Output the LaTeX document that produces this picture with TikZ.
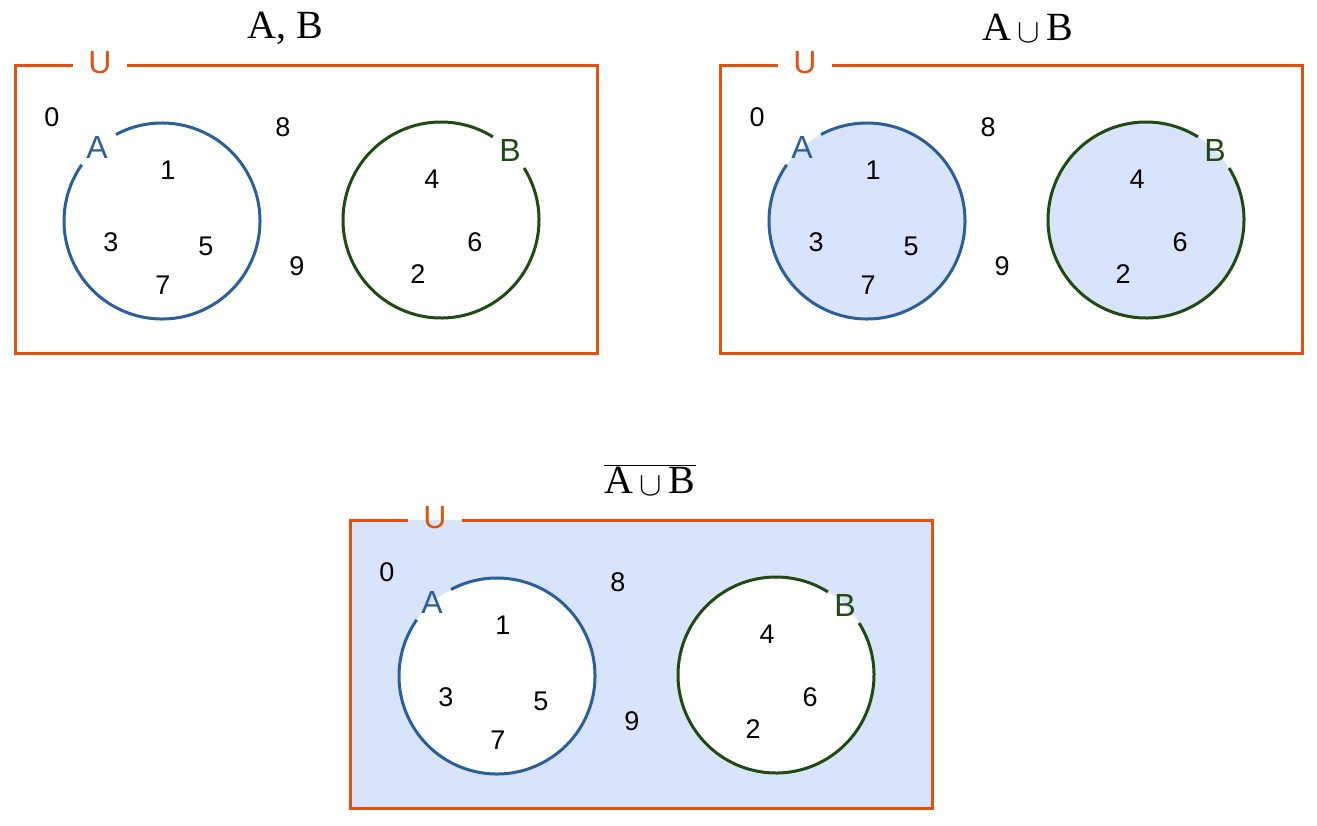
\documentclass[tikz,border=0pt]{standalone}
\usepackage{fontspec}
\setmainfont{Liberation Serif}
\newfontfamily\sansf{Liberation Sans}
\definecolor{uor}{HTML}{E4500E}
\definecolor{ablue}{HTML}{2B5F99}
\definecolor{bgreen}{HTML}{1F4A12}
\definecolor{lb}{HTML}{D8E4FC}
\newcommand\cupb{\,\raisebox{-0.05em}{\scalebox{1.35}{$\cup$}}\,}
\begin{document}
\begin{tikzpicture}[x=1pt,y=-1pt,
  num/.style={font=\sansf\fontsize{27}{30}\selectfont},
  lab/.style={font=\sansf\fontsize{32}{34}\selectfont,inner sep=0pt},
  ttl/.style={font=\fontsize{40}{42}\selectfont},
  box/.style={draw=uor,line width=3pt},
  ca/.style={draw=ablue,line width=3pt},
  cb/.style={draw=bgreen,line width=3pt}]
\useasboundingbox (0,0) rectangle (1317,825);
\newcommand\panel[4]{% #1 prefix, #2 xshift, #3 yshift, #4 circle fill
\begin{scope}[shift={(#2,#3)}]
\draw[box] (73,65) -- (15,65) -- (15,353) -- (597,353) -- (597,65) -- (127,65);
\node[lab,text=uor] (#1U) at (100,63) {U};
\fill[#4] (162,221) circle (98);
\fill[#4] (441,220) circle (98);
\draw[ca] (162,221) ++(-118:98) arc[start angle=-118,end angle=215,radius=98];
\draw[cb] (441,220) ++(-32:98) arc[start angle=-32,end angle=302,radius=98];
\node[lab,text=ablue] (#1A) at (97,147) {A};
\node[lab,text=bgreen] (#1B) at (510,150) {B};
\node[num] (#1n0) at (52,117) {0};
\node[num] (#1n8) at (283,127) {8};
\node[num] (#1n1) at (168,170) {1};
\node[num] (#1n3) at (111,242) {3};
\node[num] (#1n5) at (206,246) {5};
\node[num] (#1n7) at (163,285) {7};
\node[num] (#1n9) at (297,266) {9};
\node[num] (#1n4) at (432,179) {4};
\node[num] (#1n6) at (475,242) {6};
\node[num] (#1n2) at (418,274) {2};
\end{scope}}
\fill[lb] (350,520) rectangle (932,808);
\panel{p}{0}{0}{white}
\panel{q}{705}{0}{lb}
\panel{r}{335}{455}{white}
\node[ttl] (t1) at (285,28) {A, B};
\node[ttl] (t2) at (1028,28) {A\cupb B};
\node[ttl] (t3) at (650,480) {$\overline{\mbox{A\cupb B}}$};
\end{tikzpicture}
\end{document}
